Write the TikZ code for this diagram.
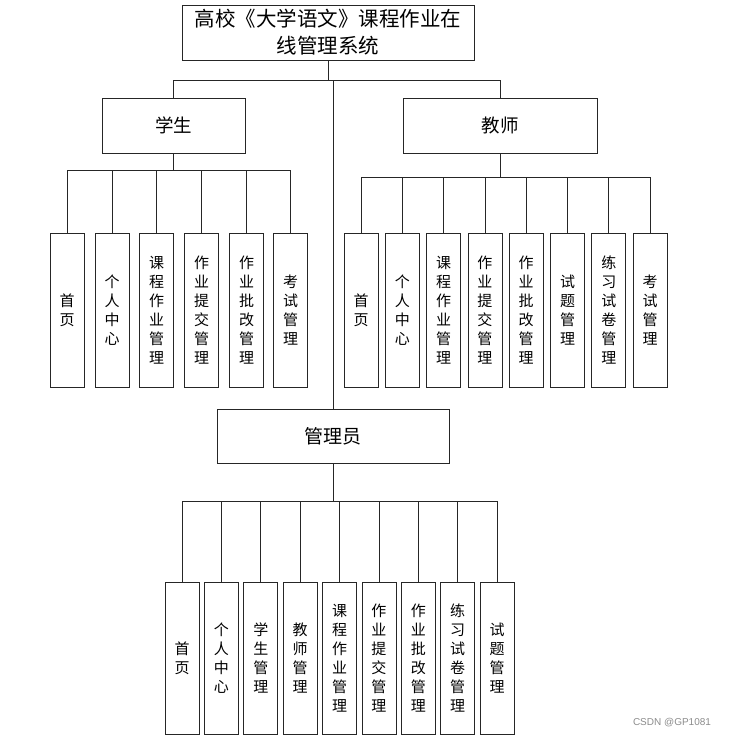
\documentclass[tikz,border=0pt]{standalone}
\usepackage{fontspec}
\setmainfont{Noto Sans CJK SC}
\newfontfamily\wmfont{Liberation Sans}
\begin{document}
\begin{tikzpicture}[x=1pt,y=-1pt,
  box/.style={draw=black!85, line width=0.8pt, inner sep=0pt, align=center, fill=white},
  leaf/.style={box, minimum width=34pt, minimum height=154pt, font=\fontsize{15}{19}\selectfont},
  aleaf/.style={leaf, minimum height=152pt},
  conn/.style={draw=black!85, line width=0.8pt}]
\useasboundingbox[fill=white] (0,0) rectangle (736,739);

% top level
\node[box, minimum width=292pt, minimum height=55pt, font=\fontsize{20.5}{27}\selectfont] (root) at (328,32.5) {高校《大学语文》课程作业在\\线管理系统};
\node[box, minimum width=143pt, minimum height=55pt, font=\fontsize{18.5}{22}\selectfont] (stu) at (173.5,125.5) {学生};
\node[box, minimum width=194pt, minimum height=55pt, font=\fontsize{18.5}{22}\selectfont] (tea) at (500,125.5) {教师};
\node[box, minimum width=232pt, minimum height=54pt, font=\fontsize{19}{22}\selectfont] (adm) at (333,436) {管理员};

% student leaves
\node[leaf] (s1) at (67,310) {首\\页};
\node[leaf] (s2) at (112,310) {个\\人\\中\\心};
\node[leaf] (s3) at (156.5,310) {课\\程\\作\\业\\管\\理};
\node[leaf] (s4) at (201.5,310) {作\\业\\提\\交\\管\\理};
\node[leaf] (s5) at (246.5,310) {作\\业\\批\\改\\管\\理};
\node[leaf] (s6) at (290.5,310) {考\\试\\管\\理};

% teacher leaves
\node[leaf] (t1) at (361,310) {首\\页};
\node[leaf] (t2) at (402.3,310) {个\\人\\中\\心};
\node[leaf] (t3) at (443.6,310) {课\\程\\作\\业\\管\\理};
\node[leaf] (t4) at (484.9,310) {作\\业\\提\\交\\管\\理};
\node[leaf] (t5) at (526.2,310) {作\\业\\批\\改\\管\\理};
\node[leaf] (t6) at (567.5,310) {试\\题\\管\\理};
\node[leaf] (t7) at (608.8,310) {练\\习\\试\\卷\\管\\理};
\node[leaf] (t8) at (650,310) {考\\试\\管\\理};

% admin leaves
\node[aleaf] (a1) at (182,658) {首\\页};
\node[aleaf] (a2) at (221.4,658) {个\\人\\中\\心};
\node[aleaf] (a3) at (260.8,658) {学\\生\\管\\理};
\node[aleaf] (a4) at (300.1,658) {教\\师\\管\\理};
\node[aleaf] (a5) at (339.5,658) {课\\程\\作\\业\\管\\理};
\node[aleaf] (a6) at (378.9,658) {作\\业\\提\\交\\管\\理};
\node[aleaf] (a7) at (418.3,658) {作\\业\\批\\改\\管\\理};
\node[aleaf] (a8) at (457.6,658) {练\\习\\试\\卷\\管\\理};
\node[aleaf] (a9) at (497,658) {试\\题\\管\\理};

% junction coordinates
\coordinate (j1) at (328,80);
\coordinate (sb) at (0,170);
\coordinate (tb) at (0,177);
\coordinate (ab) at (0,501);

% top connectors
\draw[conn] (root.south) -- (j1);
\draw[conn] (stu.north) -- (stu.north |- j1) -- (tea.north |- j1) -- (tea.north);
\draw[conn] (adm.north |- j1) -- (adm.north);

% student bus
\draw[conn] (stu.south) -- (stu.south |- sb);
\draw[conn] (s1.north) -- (s1.north |- sb) -- (s6.north |- sb) -- (s6.north);
\foreach \n in {s2,s3,s4,s5} \draw[conn] (\n.north) -- (\n.north |- sb);

% teacher bus
\draw[conn] (tea.south) -- (tea.south |- tb);
\draw[conn] (t1.north) -- (t1.north |- tb) -- (t8.north |- tb) -- (t8.north);
\foreach \n in {t2,t3,t4,t5,t6,t7} \draw[conn] (\n.north) -- (\n.north |- tb);

% admin bus
\draw[conn] (adm.south) -- (adm.south |- ab);
\draw[conn] (a1.north) -- (a1.north |- ab) -- (a9.north |- ab) -- (a9.north);
\foreach \n in {a2,a3,a4,a5,a6,a7,a8} \draw[conn] (\n.north) -- (\n.north |- ab);

% watermark
\node[font=\wmfont\fontsize{10}{11}\selectfont, text=black!45] (wm) at (672,723) {CSDN @GP1081};
\end{tikzpicture}
\end{document}
